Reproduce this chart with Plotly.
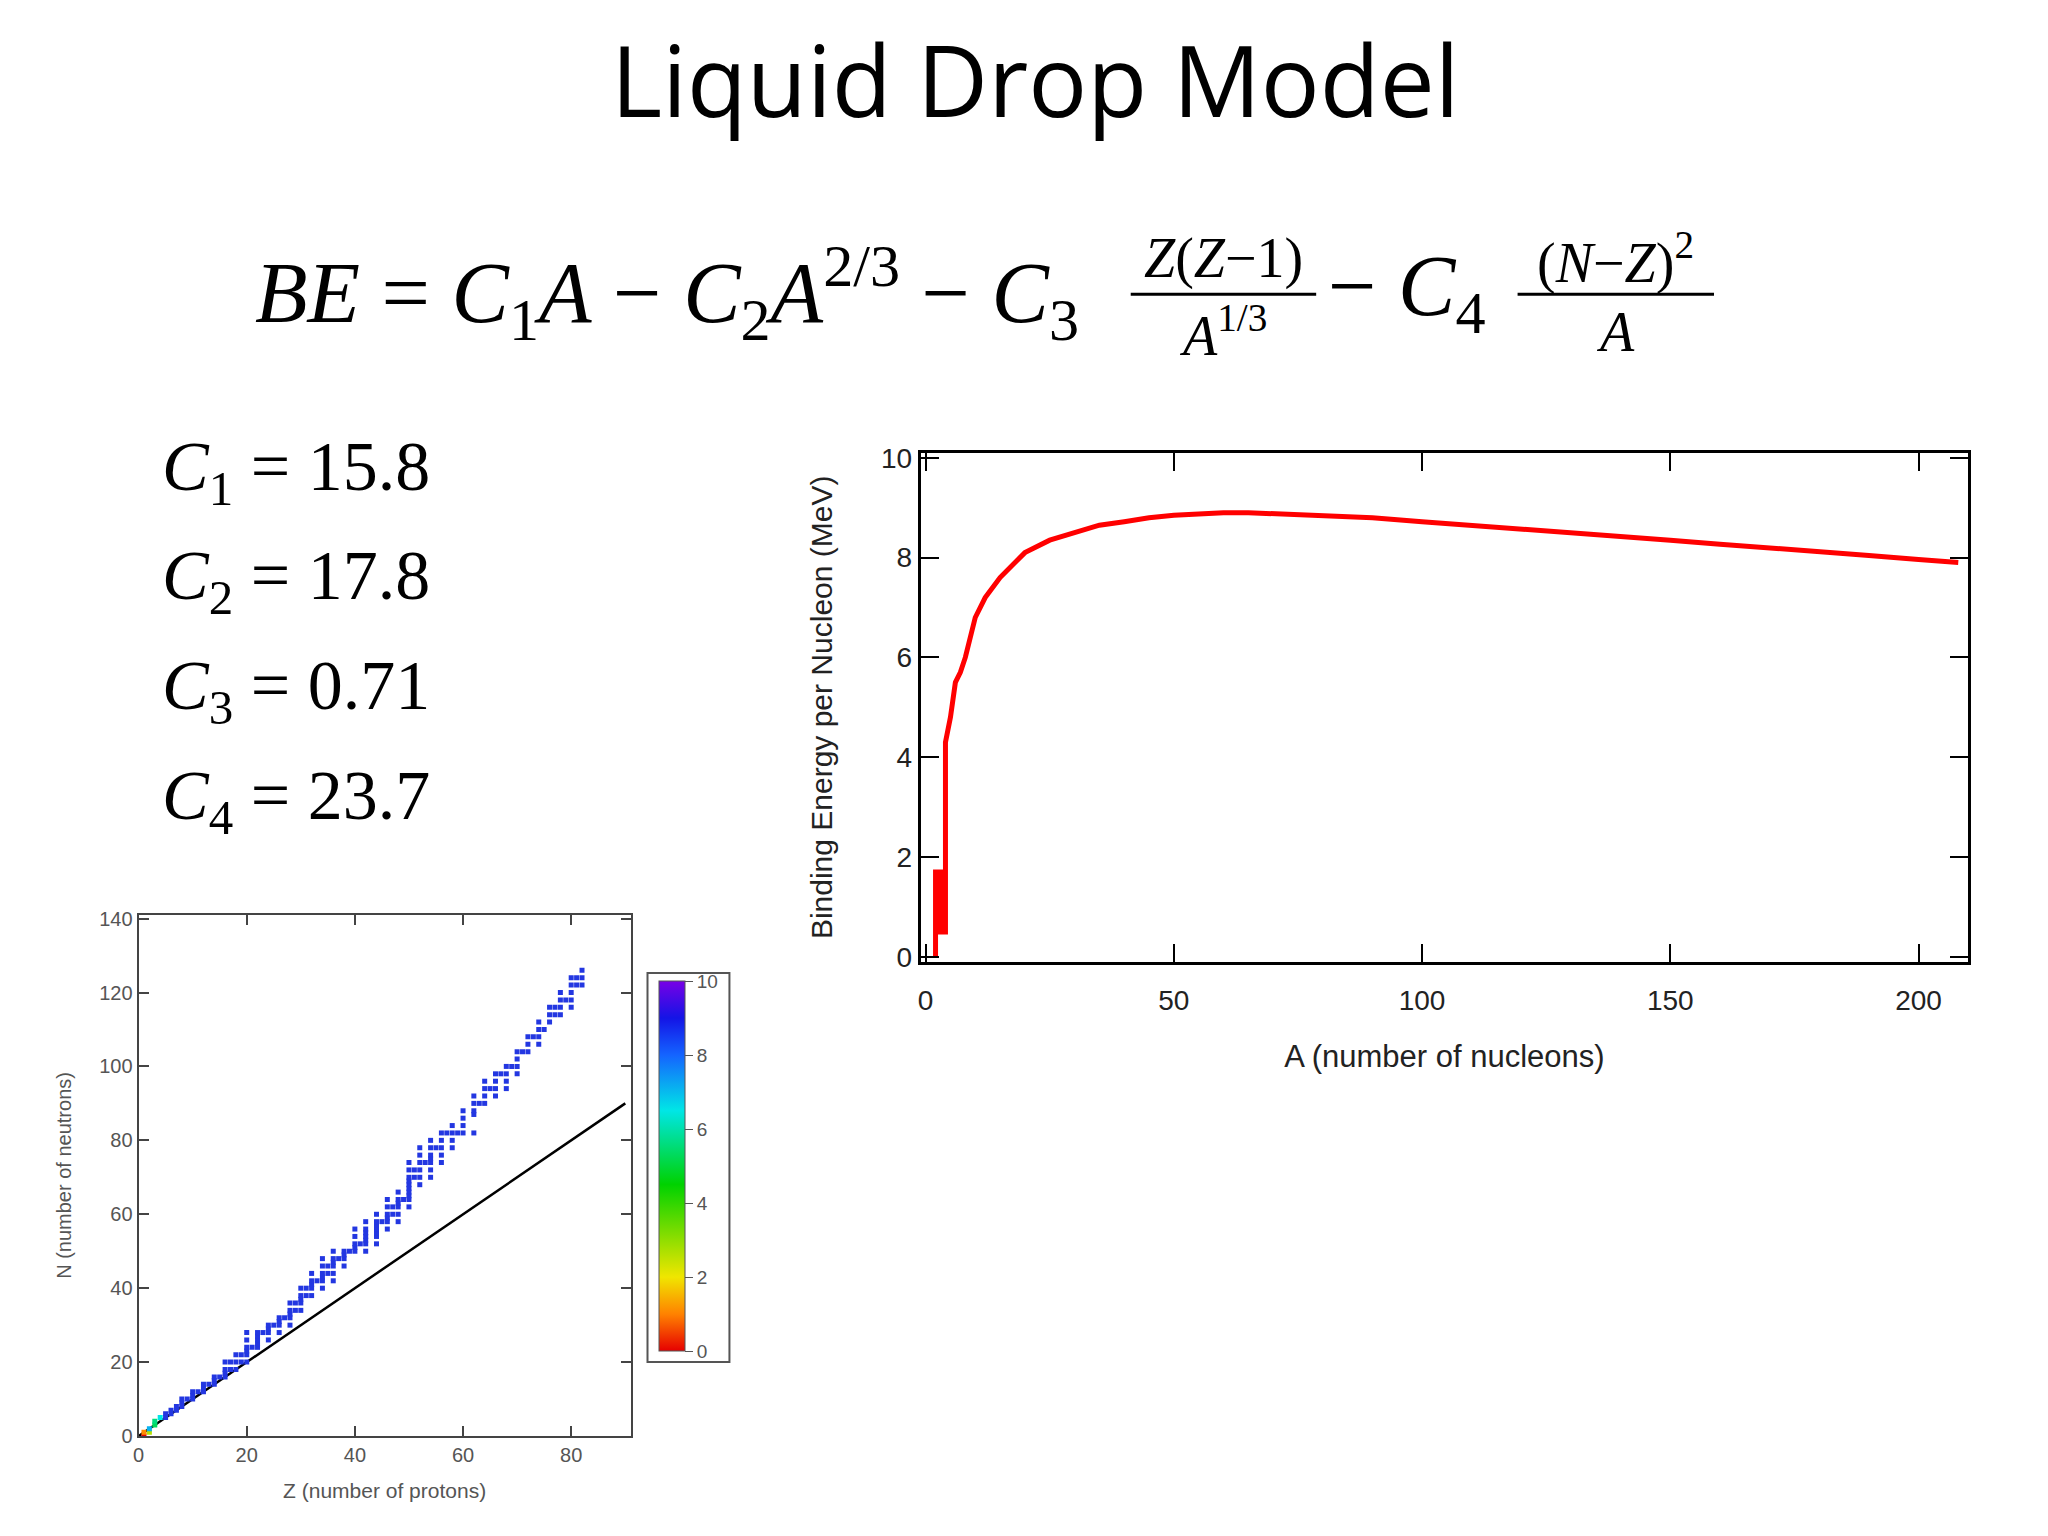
import plotly.graph_objects as go

# binding energy per nucleon curve
a_vals = [2, 2, 3, 3, 4, 4, 5, 6, 7, 8, 10, 12, 15, 18, 20, 25, 30, 35, 40, 45, 50, 55, 60, 65,
          70, 80, 90, 100, 110, 120, 130, 140, 150, 160, 170, 180, 190, 200, 208]
be_vals = [0, 1.7, 1.7, 0.5, 0.5, 4.3, 4.8, 5.5, 5.7, 6.0, 6.8, 7.2, 7.6, 7.9, 8.1, 8.35, 8.5, 8.65,
           8.72, 8.8, 8.85, 8.88, 8.9, 8.9, 8.88, 8.85, 8.8, 8.72, 8.65, 8.58, 8.5, 8.42, 8.35,
           8.27, 8.2, 8.12, 8.04, 7.96, 7.9]

# light nuclei near the origin (colour = BE/A)
z_light = [1, 1, 2, 2, 3, 3, 4]
n_light = [0, 1, 1, 2, 3, 4, 5]
c_light = [0, 1.1, 2.6, 7.1, 5.3, 5.6, 6.5]

# stable nuclides, N vs Z
zn_pairs = [(5,5),(5,6),(6,6),(6,7),(7,7),(7,8),(8,8),(8,9),(8,10),(9,10),(10,10),(10,11),(10,12),(11,12),
 (12,12),(12,13),(12,14),(13,14),(14,14),(14,15),(14,16),(15,16),(16,16),(16,17),(16,18),(16,20),(17,18),
 (17,20),(18,18),(18,20),(18,22),(19,20),(19,22),(20,20),(20,22),(20,23),(20,24),(20,26),(20,28),(21,24),
 (22,24),(22,25),(22,26),(22,27),(22,28),(23,28),(24,26),(24,28),(24,29),(24,30),(25,30),(26,28),(26,30),
 (26,31),(26,32),(27,32),(28,30),(28,32),(28,33),(28,34),(28,36),(29,34),(29,36),(30,34),(30,36),(30,37),
 (30,38),(30,40),(31,38),(31,40),(32,38),(32,40),(32,41),(32,42),(32,44),(33,42),(34,40),(34,42),(34,43),
 (34,44),(34,46),(34,48),(35,44),(35,46),(36,42),(36,44),(36,46),(36,47),(36,48),(36,50),(37,48),(38,46),
 (38,48),(38,49),(38,50),(39,50),(40,50),(40,51),(40,52),(40,54),(40,56),(41,52),(42,50),(42,52),(42,53),
 (42,54),(42,55),(42,56),(42,58),(44,52),(44,54),(44,55),(44,56),(44,57),(44,58),(44,60),(45,58),(46,56),
 (46,58),(46,59),(46,60),(46,62),(46,64),(47,60),(47,62),(48,58),(48,60),(48,62),(48,63),(48,64),(48,66),
 (49,64),(50,62),(50,64),(50,65),(50,66),(50,67),(50,68),(50,69),(50,70),(50,72),(50,74),(51,70),(51,72),
 (52,68),(52,70),(52,72),(52,74),(52,76),(52,78),(53,74),(54,70),(54,72),(54,74),(54,75),(54,76),(54,78),
 (54,80),(55,78),(56,74),(56,76),(56,78),(56,80),(56,82),(57,82),(58,78),(58,80),(58,82),(58,84),(59,82),
 (60,82),(60,84),(60,86),(60,88),(62,82),(62,87),(62,88),(62,90),(62,92),(63,90),(64,90),(64,92),(64,94),
 (64,96),(65,94),(66,92),(66,94),(66,96),(66,98),(67,98),(68,94),(68,96),(68,98),(68,100),(69,100),
 (70,98),(70,100),(70,102),(70,104),(71,104),(72,104),(72,106),(72,108),(73,108),(74,106),(74,108),
 (74,110),(74,112),(75,110),(76,112),(76,114),(76,116),(77,114),(77,116),(78,114),(78,116),(78,118),
 (78,120),(79,118),(80,116),(80,118),(80,120),(80,122),(80,124),(81,122),(81,124),(82,122),(82,124),(82,126)]
z_heavy = [p[0] for p in zn_pairs]
n_heavy = [p[1] for p in zn_pairs]

line_z = [0, 90]
line_n = [0, 90]

rainbow = [[0, 'rgb(230,0,0)'], [0.1, 'rgb(255,130,0)'], [0.2, 'rgb(240,230,0)'], [0.45, 'rgb(0,210,0)'],
           [0.65, 'rgb(0,230,230)'], [0.8, 'rgb(20,100,255)'], [0.9, 'rgb(20,20,230)'], [1, 'rgb(120,0,230)']]

fig = go.Figure()

fig.add_trace(go.Scatter(x=a_vals, y=be_vals, mode='lines', line=dict(color='red', width=5),
                         xaxis='x', yaxis='y', showlegend=False))

fig.add_trace(go.Scatter(x=line_z, y=line_n, mode='lines', line=dict(color='black', width=2.5),
                         xaxis='x2', yaxis='y2', showlegend=False))
fig.add_trace(go.Scatter(x=z_heavy, y=n_heavy, mode='markers', xaxis='x2', yaxis='y2', showlegend=False,
                         marker=dict(symbol='square', size=5, color='rgb(35,55,225)')))
fig.add_trace(go.Scatter(x=z_light, y=n_light, mode='markers', xaxis='x2', yaxis='y2', showlegend=False,
                         marker=dict(symbol='square', size=5, color=c_light, cmin=0, cmax=10,
                                     colorscale=rainbow, showscale=True,
                                     colorbar=dict(x=0.311, xanchor='left', y=0.242, yanchor='middle',
                                                   len=0.255, lenmode='fraction', thickness=26,
                                                   outlinewidth=1, outlinecolor='#555',
                                                   bordercolor='#555', borderwidth=2, xpad=10, ypad=8,
                                                   tickvals=[0, 2, 4, 6, 8, 10], ticks='outside',
                                                   ticklen=8, tickcolor='#555',
                                                   tickfont=dict(family='Arial', size=19, color='#555')))))

ax_main = dict(showline=True, linecolor='black', linewidth=3, mirror='allticks', ticks='inside',
               ticklen=18, tickwidth=2, tickcolor='black', showgrid=False, zeroline=False,
               tickfont=dict(family='Arial', size=28, color='#222'))
ax_small = dict(showline=True, linecolor='#444', linewidth=2, mirror='allticks', ticks='inside',
                ticklen=10, tickwidth=1.5, tickcolor='#444', showgrid=False, zeroline=False,
                tickfont=dict(family='Arial', size=20, color='#555'))

fig.update_layout(
    width=2048, height=1536, paper_bgcolor='white', plot_bgcolor='white',
    margin=dict(l=0, r=0, t=0, b=0),
    xaxis=dict(ax_main, domain=[0.444, 0.957], range=[-1, 210], tickvals=[0, 50, 100, 150, 200],
               anchor='y', ticklabelstandoff=12,
               title=dict(text='A (number of nucleons)', standoff=30,
                          font=dict(family='Arial', size=31, color='#222'))),
    yaxis=dict(ax_main, domain=[0.377, 0.713], range=[-0.1, 10.1], tickvals=[0, 2, 4, 6, 8, 10],
               anchor='x',
               title=dict(text='Binding Energy per Nucleon (MeV)', standoff=40,
                          font=dict(family='Arial', size=30, color='#222'))),
    xaxis2=dict(ax_small, domain=[0.061, 0.302], range=[0, 91], tickvals=[0, 20, 40, 60, 80], anchor='y2',
                title=dict(text='Z (number of protons)', standoff=18,
                           font=dict(family='Arial', size=21, color='#555'))),
    yaxis2=dict(ax_small, domain=[0.064, 0.408], range=[0, 141], tickvals=[0, 20, 40, 60, 80, 100, 120, 140],
                anchor='x2', title=dict(text='N (number of neutrons)', standoff=22,
                                        font=dict(family='Arial', size=20, color='#555'))),
)

serif = dict(family='Liberation Serif', size=86, color='black')
small_serif = dict(family='Liberation Serif', size=56, color='black')
ann = [
    dict(text='Liquid Drop Model', x=0.5, y=62, font=dict(family='Open Sans', size=98, color='black')),
    dict(text='<i>BE</i> = <i>C</i><sub>1</sub><i>A</i> − <i>C</i><sub>2</sub><i>A</i><sup>2/3</sup> − <i>C</i><sub>3</sub>',
         x=0.117, y=278, xanchor='left', font=serif),
    dict(text='<i>Z</i>(<i>Z</i>−1)', x=1213 / 2048, y=244, font=small_serif),
    dict(text='<i>A</i><sup>1/3</sup>', x=1213 / 2048, y=318, font=small_serif),
    dict(text='− <i>C</i><sub>4</sub>', x=1316 / 2048, y=278, xanchor='left', font=serif),
    dict(text='(<i>N</i>−<i>Z</i>)<sup>2</sup>', x=1606 / 2048, y=244, font=small_serif),
    dict(text='<i>A</i>', x=1606 / 2048, y=318, font=small_serif),
]
for i, (c, v) in enumerate(zip(['1', '2', '3', '4'], ['15.8', '17.8', '0.71', '23.7'])):
    ann.append(dict(text=f'<i>C</i><sub>{c}</sub> = {v}', x=146 / 2048, y=[460, 571, 682, 794][i],
                    xanchor='left', font=dict(family='Liberation Serif', size=70, color='black')))
for a in ann:
    a.setdefault('xanchor', 'center')
    a['y'] = 1 - a['y'] / 1536
    a.update(xref='paper', yref='paper', yanchor='middle', showarrow=False)
fig.update_layout(annotations=ann)

fig.update_layout(shapes=[
    dict(type='line', xref='paper', yref='paper', x0=1120 / 2048, x1=1306 / 2048,
         y0=1 - 280 / 1536, y1=1 - 280 / 1536, line=dict(color='black', width=3)),
    dict(type='line', xref='paper', yref='paper', x0=1508 / 2048, x1=1705 / 2048,
         y0=1 - 280 / 1536, y1=1 - 280 / 1536, line=dict(color='black', width=3)),
])

fig.write_html("out.html")
